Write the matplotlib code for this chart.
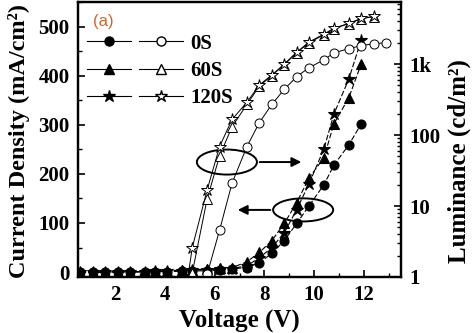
import matplotlib
matplotlib.use("Agg")
import numpy as np
import matplotlib.pyplot as plt
from matplotlib.lines import Line2D
from matplotlib.patches import Ellipse
from matplotlib.legend_handler import HandlerTuple
from matplotlib.ticker import MultipleLocator, FixedLocator, FixedFormatter, LogLocator, NullFormatter

nan = np.nan

# voltage grid (V)
volt = [0.6, 1.1, 1.6, 2.1, 2.6, 3.2, 3.6, 4.1, 4.7, 5.1, 5.7, 6.2,
        6.7, 7.3, 7.8, 8.3, 8.8, 9.3, 9.8, 10.4, 10.8, 11.4, 11.9]
volt_lum = volt + [12.4, 12.9]

# current density (mA/cm2), filled markers, left axis
j_0s = [0, 0, 0, 0, 0, 0, 1, 1, 2, 2, 3, 4,
        7, 9, 19, 38, 64, 99, 135, 178, 218, 259, 302]
j_60s = [0, 0, 0, 1, 1, 1, 2, 3, 4, 5, 6, 8,
         9, 21, 40, 64, 99, 141, 192, 233, 302, 355, 424]
j_120s = [0, 0, 0, 1, 1, 1, 2, 2, 3, 4, 5, 6,
          7, 13, 29, 50, 80, 127, 180, 251, 322, 393, 473]

# luminance (cd/m2), open markers, right axis
lum_0s = [nan] * 10 + [1.1, 4.6, 21, 69, 150, 270, 440, 665, 890,
                       1150, 1440, 1650, 1820, 1940, 2000]
lum_60s = [nan] * 9 + [1.15, 12.7, 51, 131, 270, 490, 690, 980, 1440,
                       2000, 2600, 3160, 3720, 4370, 4660, nan]
lum_120s = [nan] * 8 + [0.3, 2.6, 17, 69, 166, 290, 510, 700, 1000, 1470,
                        2050, 2650, 3200, 3750, 4400, 4700, nan]

labels = ["0S", "60S", "120S"]
markers = ["o", "^", "*"]
msizes = [6.5, 7, 9]

serif = "Liberation Serif"
plt.rcParams["font.family"] = serif
plt.rcParams["font.weight"] = "bold"

fig = plt.figure(figsize=(4.74, 3.33), dpi=100)
ax = fig.add_axes([78 / 474, 56 / 333, 323 / 474, 275 / 333])
ax2 = ax.twinx()

for y, m, ms in zip([j_0s, j_60s, j_120s], markers, msizes):
    ax.plot(volt, y, color="k", lw=0.8, ls=(0, (5, 2)), marker=m, ms=ms,
            mfc="k", mec="k", mew=0.8)
for y, m, ms in zip([lum_0s, lum_60s, lum_120s], markers, msizes):
    ax2.plot(volt_lum, y, color="k", lw=0.7, ls="-", marker=m, ms=ms,
             mfc="w", mec="k", mew=0.7)

ax.set_xlim(0.5, 13.5)
ax.set_ylim(-10, 550)
ax2.set_yscale("log")
ax2.set_ylim(1, 7500)

tick_font = dict(family=serif, weight="bold", size=15)
ax.xaxis.set_major_locator(FixedLocator([2, 4, 6, 8, 10, 12]))
ax.xaxis.set_minor_locator(MultipleLocator(1))
ax.yaxis.set_major_locator(FixedLocator([0, 100, 200, 300, 400, 500]))
ax.yaxis.set_minor_locator(MultipleLocator(50))
ax2.yaxis.set_major_locator(FixedLocator([1, 10, 100, 1000]))
ax2.yaxis.set_major_formatter(FixedFormatter(["1", "10", "100", "1k"]))
ax2.yaxis.set_minor_locator(LogLocator(base=10, subs=np.arange(2, 10)))
ax2.yaxis.set_minor_formatter(NullFormatter())

ax.tick_params(axis="both", which="major", direction="in", length=5, width=1.2, pad=6)
ax.tick_params(axis="both", which="minor", direction="in", length=3, width=1.0)
ax.tick_params(axis="x", top=False, which="both")
ax.tick_params(axis="y", right=False, which="both")
ax2.tick_params(axis="y", which="major", direction="in", length=5, width=1.2, pad=6)
ax2.tick_params(axis="y", which="minor", direction="in", length=3, width=1.0)
for a in (ax, ax2):
    for lab in a.get_xticklabels() + a.get_yticklabels():
        lab.set_fontproperties(tick_font)
    for s in a.spines.values():
        s.set_linewidth(1.6)

label_font = dict(family=serif, weight="bold", size=18)
ax.set_xlabel("Voltage (V)", fontdict=label_font, labelpad=2)
ax.set_ylabel("Current Density (mA/cm²)", family=serif, weight="bold", size=17.5)
ax.yaxis.set_label_coords(-0.15, 0.495)
ax2.set_ylabel("Luminance (cd/m²)", fontdict=label_font)
ax2.yaxis.set_label_coords(1.145, 0.42)

# legend: filled (current) and open (luminance) marker per sample
handles = []
for m, ms in zip(markers, msizes):
    filled = Line2D([], [], color="k", lw=0.8, marker=m, ms=ms, mfc="k", mec="k")
    hollow = Line2D([], [], color="k", lw=0.8, marker=m, ms=ms, mfc="w", mec="k")
    handles.append((filled, hollow))
ax2.legend(handles, labels, handler_map={tuple: HandlerTuple(ndivide=None, pad=0.4)},
           loc="upper left", bbox_to_anchor=(-0.01, 0.93), frameon=False,
           handlelength=4.6, handletextpad=0.35, labelspacing=0.35,
           borderaxespad=0.2, prop=dict(family=serif, weight="bold", size=15))

ax2.text(0.045, 0.93, "(a)", transform=ax2.transAxes, color="#d2642a",
         fontsize=12, family="Liberation Sans", weight="normal", va="center")

# ellipses with arrows pointing to the matching axis
ax2.add_patch(Ellipse((0.461, 0.418), 0.186, 0.091, transform=ax2.transAxes,
                      fill=False, lw=1.4, ec="k"))
ax2.annotate("", xy=(0.70, 0.418), xytext=(0.554, 0.418), xycoords="axes fraction",
             arrowprops=dict(arrowstyle="-|>", color="k", lw=1.4, mutation_scale=14))
ax2.add_patch(Ellipse((0.697, 0.244), 0.186, 0.084, transform=ax2.transAxes,
                      fill=False, lw=1.4, ec="k"))
ax2.annotate("", xy=(0.486, 0.244), xytext=(0.604, 0.244), xycoords="axes fraction",
             arrowprops=dict(arrowstyle="-|>", color="k", lw=1.4, mutation_scale=14))

fig.savefig("out.png", dpi=100)
